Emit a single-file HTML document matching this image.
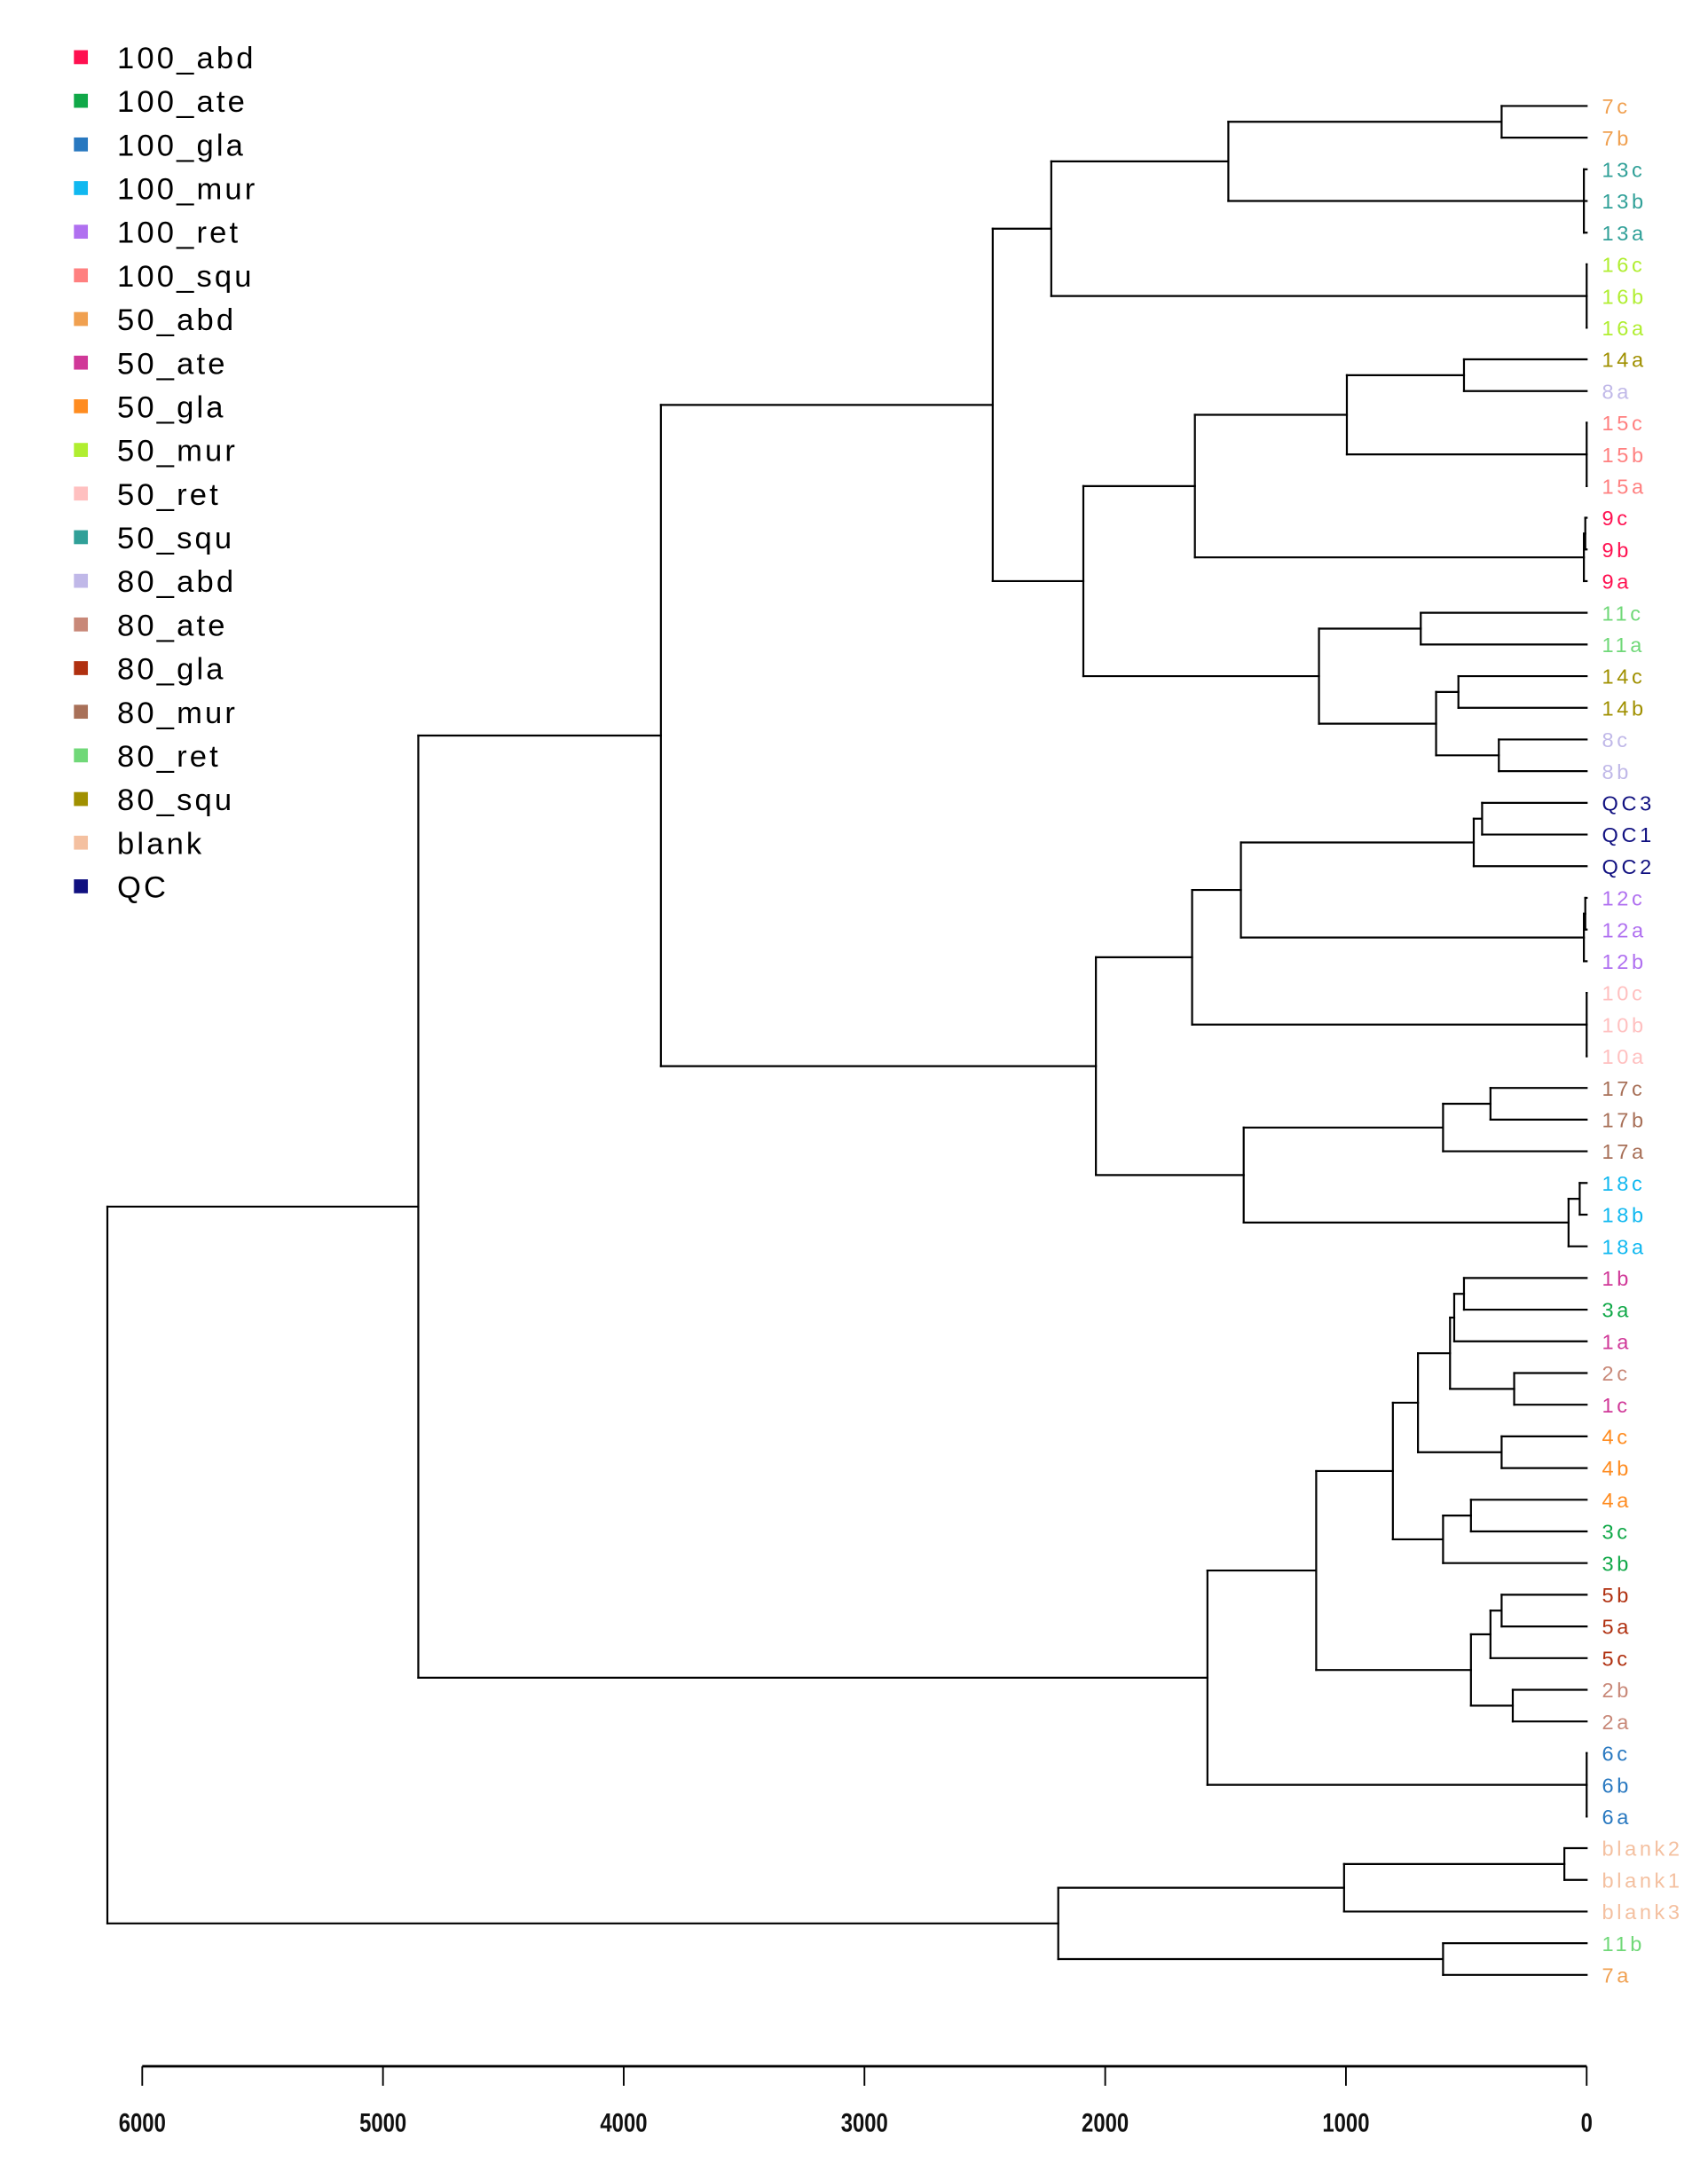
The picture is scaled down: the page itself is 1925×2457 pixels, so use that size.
<!DOCTYPE html>
<html><head><meta charset="utf-8"><style>html,body{margin:0;padding:0;background:#fff}svg{display:block}</style></head>
<body>
<svg id="s" width="1925" height="2457" viewBox="0 0 1225 1563.6" xmlns="http://www.w3.org/2000/svg" font-family="Liberation Sans, DejaVu Sans, sans-serif"></svg>
<script>
const C={abd100:"#ff1050",ate100:"#10a848",gla100:"#2878c0",mur100:"#10b8f0",ret100:"#b070f0",squ100:"#ff8080",abd50:"#f0a050",ate50:"#d03898",gla50:"#ff8c20",mur50:"#b0ee30",ret50:"#ffc0c0",squ50:"#30a098",abd80:"#c0b8e8",ate80:"#c88878",gla80:"#b03010",mur80:"#a87058",ret80:"#70d878",squ80:"#a09000",blank:"#f4c0a0",QC:"#101080"};
const leg=[["100_abd",C.abd100],["100_ate",C.ate100],["100_gla",C.gla100],["100_mur",C.mur100],["100_ret",C.ret100],["100_squ",C.squ100],["50_abd",C.abd50],["50_ate",C.ate50],["50_gla",C.gla50],["50_mur",C.mur50],["50_ret",C.ret50],["50_squ",C.squ50],["80_abd",C.abd80],["80_ate",C.ate80],["80_gla",C.gla80],["80_mur",C.mur80],["80_ret",C.ret80],["80_squ",C.squ80],["blank",C.blank],["QC",C.QC]];
const gc={"1":C.ate50,"2":C.ate80,"3":C.ate100,"4":C.gla50,"5":C.gla80,"6":C.gla100,"7":C.abd50,"8":C.abd80,"9":C.abd100,"10":C.ret50,"11":C.ret80,"12":C.ret100,"13":C.squ50,"14":C.squ80,"15":C.squ100,"16":C.mur50,"17":C.mur80,"18":C.mur100};
const leaves=["7c","7b","13c","13b","13a","16c","16b","16a","14a","8a","15c","15b","15a","9c","9b","9a","11c","11a","14c","14b","8c","8b","QC3","QC1","QC2","12c","12a","12b","10c","10b","10a","17c","17b","17a","18c","18b","18a","1b","3a","1a","2c","1c","4c","4b","4a","3c","3b","5b","5a","5c","2b","2a","6c","6b","6a","blank2","blank1","blank3","11b","7a"];
const col=n=>n.startsWith("QC")?C.QC:n.startsWith("blank")?C.blank:gc[n.replace(/[abc]$/,"")];
const Y={};leaves.forEach((n,i)=>Y[n]=76+i*22.72);
let out="";const L=(x1,y1,x2,y2)=>out+=`<line x1="${x1}" y1="${y1}" x2="${x2}" y2="${y2}"/>`;
const LX=1138;
function node(t){if(typeof t==="string")return{x:LX,y:Y[t]};const x=t[0];const ch=t.slice(1).map(node);
 ch.forEach(c=>L(c.x,c.y,x,c.y));L(x,ch[0].y,x,ch[ch.length-1].y);return{x:x,y:(ch[0].y+ch[ch.length-1].y)/2};}
const tree=[77,
 [300,
  [474,
   [712,
    [754,[881,[1077,"7c","7b"],[1136,"13c","13b","13a"]],[1138,"16c","16b","16a"]],
    [777,[857,[966,[1050,"14a","8a"],[1138,"15c","15b","15a"]],[1136,[1137,"9c","9b"],"9a"]],
         [946,[1019,"11c","11a"],[1030,[1046,"14c","14b"],[1075,"8c","8b"]]]]],
   [786,[855,[890,[1057,[1063,"QC3","QC1"],"QC2"],[1136,[1137,"12c","12a"],"12b"]],[1138,"10c","10b","10a"]],
        [892,[1035,[1069,"17c","17b"],"17a"],[1125,[1133,"18c","18b"],"18a"]]]],
  [866,[944,[999,[1017,[1040,[1043,[1050,"1b","3a"],"1a"],[1086,"2c","1c"]],[1077,"4c","4b"]],[1035,[1055,"4a","3c"],"3b"]],
            [1055,[1069,[1077,"5b","5a"],"5c"],[1085,"2b","2a"]]],[1138,"6c","6b","6a"]]],
 [759,[964,[1122,"blank2","blank1"],"blank3"],[1035,"11b","7a"]]];
node(tree);
let g=`<g stroke="#000" stroke-width="1.4" fill="none" stroke-linecap="square">${out}</g>`;
leaves.forEach(n=>g+=`<text x="1149" y="${Y[n]+5.5}" font-size="15" fill="${col(n)}" letter-spacing="2.3">${n}</text>`);
leg.forEach((l,i)=>{const y=41+i*31.3;g+=`<rect x="53" y="${y-5}" width="10" height="10" fill="${l[1]}"/><text x="84" y="${y+8}" font-size="22" fill="#000" letter-spacing="2">${l[0]}</text>`;});
let ax=`<line x1="102" y1="1482" x2="1138" y2="1482" stroke="#000" stroke-width="1.8"/>`;
for(let k=0;k<=6;k++){const x=1138-k*(1036/6);ax+=`<line x1="${x}" y1="1482" x2="${x}" y2="1496" stroke="#000" stroke-width="1.2"/><text x="${x}" y="1529" font-size="19" font-weight="bold" text-anchor="middle" fill="#111" transform="translate(${x} 0) scale(0.8 1) translate(${-x} 0)">${k*1000}</text>`;}
document.getElementById("s").innerHTML=g+ax;
</script>
</body></html>
